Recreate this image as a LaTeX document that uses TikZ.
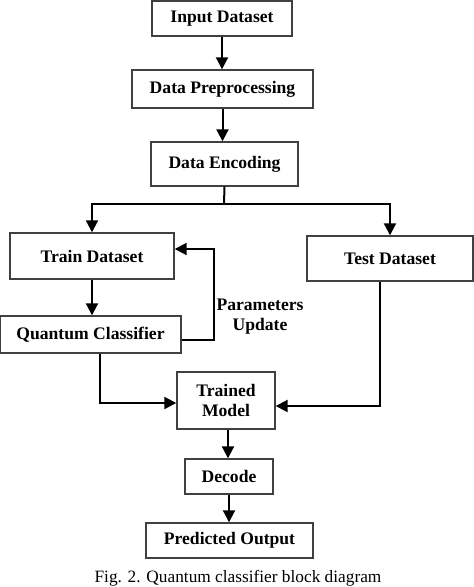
\documentclass[tikz,border=0pt]{standalone}
\usepackage{fontspec}
\setmainfont{Liberation Serif}
\usetikzlibrary{arrows.meta, positioning}

\begin{document}
\begin{tikzpicture}[
    x=1pt, y=-1pt,
    block/.style={rectangle, draw=black!75, line width=1.4pt, inner sep=0pt, font=\fontsize{17.6}{20}\selectfont\bfseries, align=center},
    link/.style={line width=2pt},
    arrow/.style={link, -{Triangle[width=12pt, length=12pt]}}
]
\useasboundingbox (0,0) rectangle (474,587);

% blocks
\node[block, minimum width=140pt, minimum height=35pt] (inp) at (222,18.5) {Input Dataset};
\node[block, minimum width=181pt, minimum height=38pt] (pre) at (222.5,89) {Data Preprocessing};
\node[block, minimum width=147pt, minimum height=44pt] (enc) at (224.5,164) {Data Encoding};
\node[block, minimum width=164pt, minimum height=46pt] (train) at (92,256) {Train Dataset};
\node[block, minimum width=166pt, minimum height=45pt] (test) at (390,258.5) {Test Dataset};
\node[block, minimum width=181pt, minimum height=37pt] (qc) at (90.5,334.5) {Quantum Classifier};
\node[block, minimum width=98pt, minimum height=57pt] (model) at (226,400.5) {Trained\\Model};
\node[block, minimum width=88pt, minimum height=35pt] (dec) at (229,476.5) {Decode};
\node[block, minimum width=167pt, minimum height=35pt] (out) at (229.5,540.5) {Predicted Output};

% split point below encoding
\coordinate (split) at (224,204);

% connectors
\draw[arrow] (inp.south) -- (inp.south |- pre.north);
\draw[arrow] (pre.south) -- (pre.south |- enc.north);
\draw[link] (enc.south) -- (split);
\draw[arrow] (split) -| (train.north);
\draw[arrow] (split) -| (test.north);
\draw[arrow] (train.south) -- (train.south |- qc.north);
\draw[arrow] ([yshift=-5.5pt]qc.east) -- ++(32,0) |- ([yshift=7pt]train.east);
\draw[arrow] ([xshift=9.5pt]qc.south) |- ([yshift=-2.5pt]model.west);
\draw[arrow] ([xshift=-10pt]test.south) |- ([yshift=-5.5pt]model.east);
\draw[arrow] ([xshift=2pt]model.south) -- ([xshift=2pt]model.south |- dec.north);
\draw[arrow] (dec.south) -- (dec.south |- out.north);

% labels
\node[font=\fontsize{17.6}{20}\selectfont\bfseries, align=center] (upd) at (260,317) {Parameters\\Update};
\node[font=\fontsize{17.3}{20}\selectfont, anchor=base] (cap) at (238,582) {Fig. 2. Quantum classifier block diagram};
\end{tikzpicture}
\end{document}
